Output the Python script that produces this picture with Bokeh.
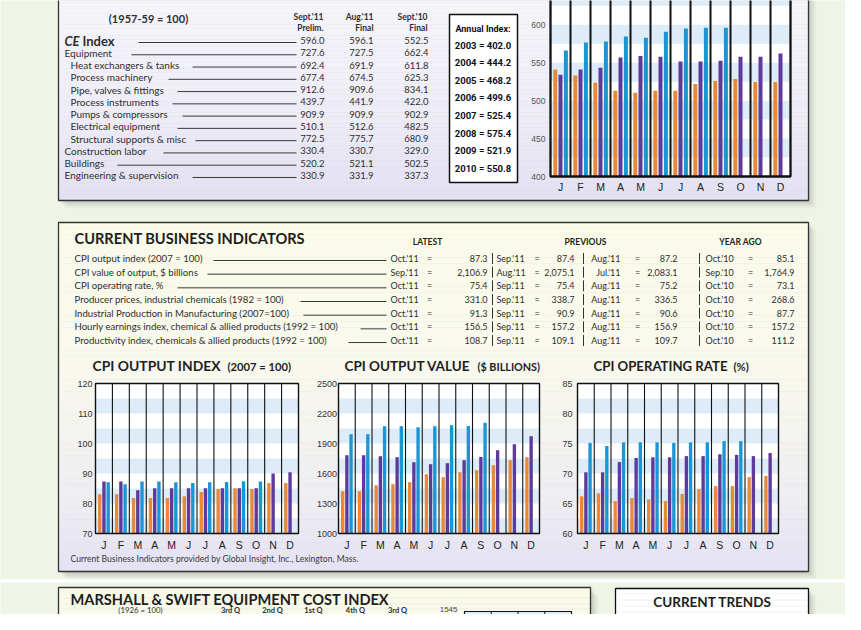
import numpy as np
from bokeh.plotting import figure
from bokeh.models import Range1d, ColumnDataSource
from bokeh.core.properties import value
from bokeh.transform import dodge
from bokeh.embed import file_html
from bokeh.resources import INLINE

# ---------------- data ----------------
months = ["J", "F", "M", "A", "M", "J", "J", "A", "S", "O", "N", "D"]

# CE plant cost index, monthly (orange = 2009, purple = 2010, blue = 2011)
ce_2009 = [541.0, 533.0, 524.0, 513.0, 510.5, 513.0, 513.0, 522.0, 526.0, 528.5, 524.5, 524.5]
ce_2010 = [534.0, 541.0, 543.5, 557.0, 559.0, 558.0, 551.5, 551.5, 552.5, 558.0, 558.0, 562.0]
ce_2011 = [566.0, 576.5, 578.0, 584.5, 583.0, 591.0, 595.0, 596.1, 596.0]
ce_ticks = [400, 450, 500, 550, 600]

annual_years = [2003, 2004, 2005, 2006, 2007, 2008, 2009, 2010]
annual_values = [402.0, 444.2, 468.2, 499.6, 525.4, 575.4, 521.9, 550.8]

ce_items = ["Index", "Equipment", "Heat exchangers & tanks", "Process machinery",
            "Pipe, valves & fittings", "Process instruments", "Pumps & compressors",
            "Electrical equipment", "Structural supports & misc", "Construction labor",
            "Buildings", "Engineering & supervision"]
ce_indent = [0, 0, 1, 1, 1, 1, 1, 1, 1, 0, 0, 0]
ce_sep11 = [596.0, 727.6, 692.4, 677.4, 912.6, 439.7, 909.9, 510.1, 772.5, 330.4, 520.2, 330.9]
ce_aug11 = [596.1, 727.5, 691.9, 674.5, 909.6, 441.9, 909.9, 512.6, 775.7, 330.7, 521.1, 331.9]
ce_sep10 = [552.5, 662.4, 611.8, 625.3, 834.1, 422.0, 902.9, 482.5, 680.9, 329.0, 502.5, 337.3]
ce_head1 = ["Sept.'11", "Aug.'11", "Sept.'10"]
ce_head2 = ["Prelim.", "Final", "Final"]

# Current business indicators
cbi_items = ["CPI output index (2007 = 100)",
             "CPI value of output, $ billions",
             "CPI operating rate, %",
             "Producer prices, industrial chemicals (1982 = 100)",
             "Industrial Production in Manufacturing (2007=100)",
             "Hourly earnings index, chemical & allied products (1992 = 100)",
             "Productivity index, chemicals & allied products (1992 = 100)"]
latest_date = ["Oct.'11", "Sep.'11", "Oct.'11", "Oct.'11", "Oct.'11", "Oct.'11", "Oct.'11"]
latest_val = ["87.3", "2,106.9", "75.4", "331.0", "91.3", "156.5", "108.7"]
prev1_date = ["Sep.'11", "Aug.'11", "Sep.'11", "Sep.'11", "Sep.'11", "Sep.'11", "Sep.'11"]
prev1_val = ["87.4", "2,075.1", "75.4", "338.7", "90.9", "157.2", "109.1"]
prev2_date = ["Aug.'11", "Jul.'11", "Aug.'11", "Aug.'11", "Aug.'11", "Aug.'11", "Aug.'11"]
prev2_val = ["87.2", "2,083.1", "75.2", "336.5", "90.6", "156.9", "109.7"]
ya_date = ["Oct.'10", "Sep.'10", "Oct.'10", "Oct.'10", "Oct.'10", "Oct.'10", "Oct.'10"]
ya_val = ["85.1", "1,764.9", "73.1", "268.6", "87.7", "157.2", "111.2"]

cpi_index_2009 = [83.1, 83.1, 81.8, 81.8, 81.8, 82.4, 83.8, 84.8, 85.1, 84.8, 86.8, 86.8]
cpi_index_2010 = [87.3, 87.3, 84.4, 85.1, 85.1, 85.1, 85.1, 85.1, 85.1, 85.1, 90.0, 90.4]
cpi_index_2011 = [87.1, 86.4, 87.3, 87.3, 87.1, 86.8, 87.1, 87.2, 87.4, 87.3]
cpi_index_ticks = [70, 80, 90, 100, 110, 120]

cpi_value_2009 = [1423, 1423, 1483, 1493, 1513, 1593, 1563, 1613, 1633, 1683, 1733, 1763]
cpi_value_2010 = [1783, 1783, 1773, 1763, 1713, 1693, 1703, 1733, 1765, 1833, 1893, 1973]
cpi_value_2011 = [1993, 1993, 2073, 2073, 2063, 2073, 2083, 2075, 2107]
cpi_value_ticks = [1000, 1300, 1600, 1900, 2200, 2500]

cpi_rate_2009 = [66.2, 66.7, 65.4, 65.9, 65.7, 65.4, 66.6, 67.4, 67.9, 67.9, 69.4, 69.6]
cpi_rate_2010 = [70.2, 70.2, 71.9, 72.6, 72.7, 72.7, 72.9, 72.9, 73.2, 73.1, 72.9, 73.4]
cpi_rate_2011 = [75.1, 74.6, 75.2, 75.2, 75.2, 75.1, 75.2, 75.2, 75.4, 75.4]
cpi_rate_ticks = [60, 65, 70, 75, 80, 85]

ms_heads = ["3rd Q", "2nd Q", "1st Q", "4th Q", "3rd Q"]
ms_ticks = [1545]

# ---------------- styling ----------------
GREEN = "#eef5e7"
ORANGE = "#e8893a"
PURPLE = "#5e3a9a"
BLUE = "#1b96d4"
STRIPE = "#ddecf8"
TXT = "#2e2e2e"
BODY = "Lato"
HEAD = "Lato"
AX = "Liberation Sans"
NARROW = "Liberation Sans Narrow, Roboto, sans-serif"

W, H = 845, 614
X0, X1, Y0, Y1 = 0, W, 0, H

p = figure(width=W, height=H, x_range=Range1d(X0, X1), y_range=Range1d(Y1, Y0),
           x_axis_type=None, y_axis_type=None, output_backend="svg",
           toolbar_location=None, min_border=0)
p.grid.visible = False
p.outline_line_color = None
p.background_fill_color = GREEN
p.border_fill_color = GREEN

xr, yr = {}, {}


def chart_ranges(name, px0, px1, n, ya, pya, yb, pyb):
    kx = (px1 - px0) / n
    xr[name] = Range1d(-(px0 - X0) / kx, (X1 - px0) / kx)
    ky = (pya - pyb) / (yb - ya)
    yr[name] = Range1d(ya - (Y1 - pya) / ky, ya + (pya - Y0) / ky)


chart_ranges("ce", 550, 790, 12, 400, 176, 600, 24.3)
chart_ranges("c1", 95, 298, 12, 70, 533, 120, 383)
chart_ranges("c2", 338, 539, 12, 1000, 533, 2500, 383)
chart_ranges("c3", 577, 778, 12, 60, 533, 85, 383)
chart_ranges("ms", 464, 571, 4, 1445, 690, 1545, 611)
p.extra_x_ranges = xr
p.extra_y_ranges = yr


def txt(x, y, s, size=9, font=BODY, color=TXT, align="left", baseline="middle",
        style="normal", xn="default", yn="default"):
    n = len(s)
    xs = x if isinstance(x, (list, np.ndarray)) else [x] * n
    ys = y if isinstance(y, (list, np.ndarray)) else [y] * n
    p.text(x=list(xs), y=list(ys), text=list(s), text_font=value(font),
           text_font_size=f"{size}px", text_color=color, text_align=align,
           text_baseline=baseline, text_font_style=style,
           x_range_name=xn, y_range_name=yn)


def hexmix(c1, c2, t):
    a = [int(c1[i:i + 2], 16) for i in (1, 3, 5)]
    b = [int(c2[i:i + 2], 16) for i in (1, 3, 5)]
    return "#" + "".join(f"{int(round(a[k] + (b[k] - a[k]) * t)):02x}" for k in range(3))


def panel(x0, x1, y0, y1, stops, border="#333333"):
    for k, a in [(8, 0.035), (6, 0.05), (4, 0.07), (2, 0.09)]:
        p.quad(left=x0 + k, right=x1 + k, top=y0 + k, bottom=y1 + k,
               fill_color="#444444", fill_alpha=a, line_color=None)
    n = 60
    ys = np.linspace(y0, y1, n + 1)
    cols = []
    for i in range(n):
        t = (i + 0.5) / n
        for j in range(len(stops) - 1):
            if stops[j][0] <= t <= stops[j + 1][0]:
                tt = (t - stops[j][0]) / (stops[j + 1][0] - stops[j][0])
                cols.append(hexmix(stops[j][1], stops[j + 1][1], tt))
                break
    p.quad(left=x0, right=x1, top=ys[:-1], bottom=ys[1:] + 0.3, fill_color=cols, line_color=None)
    p.quad(left=x0, right=x1, top=y0, bottom=y1, fill_color=None, line_color=border, line_width=1.3)


def draw_chart(name, s09, s10, s11, ylo, yhi, ticks, band, phase, px0, month_y,
               sep_w, tick_size, tick_gap, tick_base, offs, bw, tick_color):
    m = [i + 0.5 for i in range(12)]
    kw = dict(x_range_name=name, y_range_name=name)
    p.quad(left=0, right=12, bottom=ylo, top=yhi, fill_color="white", line_color=None, **kw)
    starts = np.arange(ylo + phase * band, yhi, 2 * band)
    p.quad(left=0, right=12, bottom=starts, top=np.minimum(starts + band, yhi),
           fill_color=STRIPE, line_color=None, **kw)
    for vals, col, off in [(s09, ORANGE, offs[0]), (s10, PURPLE, offs[1]), (s11, BLUE, offs[2])]:
        src = ColumnDataSource(dict(m=m[:len(vals)], v=vals))
        p.vbar(x=dodge("m", off), top="v", bottom=ylo, width=bw, source=src,
               fill_color=col, line_color=None, **kw)
    b = list(range(1, 12))
    p.segment(x0=b, x1=b, y0=ylo, y1=yhi, line_color="#111111", line_width=sep_w, **kw)
    p.quad(left=0, right=12, bottom=ylo, top=yhi, fill_color=None,
           line_color="#111111", line_width=sep_w + 0.3, **kw)
    txt(px0 - tick_gap, ticks, [str(t) for t in ticks], size=tick_size, font=AX,
        color=tick_color, align="right", baseline=tick_base, yn=name)
    txt(m, month_y, months, size=10.5, font=AX, color="#222222", align="center", xn=name)


# ---------------- page background ----------------
p.quad(left=X0, right=X1, top=578.5, bottom=582, fill_color="white", line_color=None)

# ---------------- panel 1: CE index ----------------
panel(58, 808, -20, 200, [(0, "#f7f6fb"), (0.5, "#f0eff8"), (1, "#e3e1f2")])

txt(148, 18, ["(1957-59 = 100)"], size=11, style="bold", align="center")
txt([323, 373, 427], 16.5, ce_head1, size=8.5, style="bold", align="right")
txt([323, 373, 427], 27, ce_head2, size=8.5, style="bold", align="right")

row_y = [40 + 12.27 * i for i in range(len(ce_items))]
lab_x = [64 + 6 * ind for ind in ce_indent]
txt(64, 40.5, ["CE"], size=13, style="bold italic")
txt(82, 40.5, [ce_items[0]], size=13, style="bold")
txt(lab_x[1:], row_y[1:], ce_items[1:], size=10)
line_start = [138, 131, 192, 168, 177, 172, 182, 177, 195, 163, 117, 192]
p.segment(x0=line_start, x1=[296] * 12, y0=[y + 2 for y in row_y], y1=[y + 2 for y in row_y],
          line_color="#3a3a3a", line_width=1)
for xcol, vals in [(324, ce_sep11), (373, ce_aug11), (428, ce_sep10)]:
    txt(xcol, row_y, [f"{v:.1f}" for v in vals], size=9.5, align="right")

# annual index box
p.quad(left=449, right=517, top=14, bottom=182, fill_color="white", line_color="#111111", line_width=1.5)
txt(482.5, 28.5, ["Annual Index:"], size=9, font=NARROW, style="bold", color="#111111", align="center")
ann_y = [44.5 + 17.6 * i for i in range(len(annual_years))]
txt(482.5, ann_y, [f"{y} = {v:.1f}" for y, v in zip(annual_years, annual_values)],
    size=9.5, font=NARROW, style="bold", color="#111111", align="center")

draw_chart("ce", ce_2009, ce_2010, ce_2011, 400, 650, ce_ticks, 25, 1, 550, 186.5,
           2.0, 8.5, 5, "middle", (-0.26, 0.0, 0.27), 0.2, "#555555")

# ---------------- panel 2: current business indicators ----------------
panel(58, 808, 222, 571, [(0, "#fbfbea"), (0.45, "#f8f8ee"), (0.8, "#eeedf2"), (1, "#e4e2f3")])
txt(74, 238, ["CURRENT BUSINESS INDICATORS"], size=14.6, font=HEAD, style="bold", color="#1e1e1e")
txt([427, 585, 740], 241, ["LATEST", "PREVIOUS", "YEAR AGO"], size=8.5, font=HEAD,
    style="bold", color="#1e1e1e", align="center")

cy = [258 + 13.67 * i for i in range(len(cbi_items))]
txt(74, cy, cbi_items, size=9.6)
cbi_line_start = [213, 207, 177, 300, 303, 360, 348]
p.segment(x0=cbi_line_start, x1=[386] * 7, y0=[y + 2 for y in cy], y1=[y + 2 for y in cy],
          line_color="#3a3a3a", line_width=1)
CS, DS = 9.0, 9.0
txt(390, cy, latest_date, size=DS)
txt(429, cy, ["="] * 7, size=CS, align="center")
txt(487, cy, latest_val, size=CS, align="right")
txt(496, cy, prev1_date, size=DS)
txt(536.5, cy, ["="] * 7, size=CS, align="center")
txt(574, cy, prev1_val, size=CS, align="right")
txt(620, cy, prev2_date, size=DS, align="right")
txt(637, cy, ["="] * 7, size=CS, align="center")
txt(677, cy, prev2_val, size=CS, align="right")
txt(705, cy, ya_date, size=DS)
txt(750, cy, ["="] * 7, size=CS, align="center")
txt(794, cy, ya_val, size=CS, align="right")
for sx in (492, 583, 699):
    p.segment(x0=[sx] * 7, x1=[sx] * 7, y0=[y - 5.5 for y in cy], y1=[y + 5.5 for y in cy],
              line_color="#333333", line_width=1)

# chart titles
ST = 11.2
txt(92, 365, ["CPI OUTPUT INDEX"], size=13.9, font=HEAD, style="bold", color="#1e1e1e")
txt(227, 366, ["(2007 = 100)"], size=ST, font=HEAD, style="bold", color="#1e1e1e")
txt(344, 365, ["CPI OUTPUT VALUE"], size=13.5, font=HEAD, style="bold", color="#1e1e1e")
txt(477, 366, ["($ BILLIONS)"], size=10.8, font=HEAD, style="bold", color="#1e1e1e")
txt(593, 365, ["CPI OPERATING RATE"], size=13.2, font=HEAD, style="bold", color="#1e1e1e")
txt(733, 366, ["(%)"], size=ST, font=HEAD, style="bold", color="#1e1e1e")

offs = (-0.25, 0.0, 0.25)
draw_chart("c1", cpi_index_2009, cpi_index_2010, cpi_index_2011, 70, 120, cpi_index_ticks,
           5, 0, 95, 544, 1.1, 9, 3, "alphabetic", offs, 0.2, "#333333")
draw_chart("c2", cpi_value_2009, cpi_value_2010, cpi_value_2011, 1000, 2500, cpi_value_ticks,
           150, 0, 338, 544, 1.1, 9, 1.5, "alphabetic", offs, 0.2, "#333333")
draw_chart("c3", cpi_rate_2009, cpi_rate_2010, cpi_rate_2011, 60, 85, cpi_rate_ticks,
           2.5, 0, 577, 544, 1.1, 9, 5, "alphabetic", offs, 0.2, "#333333")

txt(70, 558.5, ["Current Business Indicators provided by Global Insight, Inc., Lexington, Mass."],
    size=8.6, color="#3a3a3a")

# ---------------- panel 3: Marshall & Swift ----------------
panel(58, 590, 587, 660, [(0, "#fbfbea"), (1, "#f7f7ea")])
txt(70, 598.5, ["MARSHALL & SWIFT EQUIPMENT COST INDEX"], size=14.6, font=HEAD, style="bold", color="#1e1e1e")
txt(140, 609.5, ["(1926 = 100)"], size=7.8, align="center")
txt([230, 272, 313, 355, 397], 609.5, ms_heads, size=7.5, style="bold", align="center")
p.quad(left=0, right=4, bottom=1445, top=1545, fill_color=STRIPE, line_color="#111111",
       line_width=1.2, x_range_name="ms", y_range_name="ms")
p.segment(x0=[1, 2, 3], x1=[1, 2, 3], y0=1445, y1=1545, line_color="#111111",
          line_width=1, x_range_name="ms", y_range_name="ms")
txt(457, ms_ticks, [str(t) for t in ms_ticks], size=8, font=AX, color="#444444",
    align="right", baseline="bottom", yn="ms")

# ---------------- panel 4: current trends ----------------
panel(615, 808, 588, 660, [(0, "#ffffff"), (1, "#ffffff")], border="#111111")
txt(712, 601, ["CURRENT TRENDS"], size=13.5, font=HEAD, style="bold", color="#1e1e1e", align="center")

open("out.html", "w").write(file_html(p, INLINE))
